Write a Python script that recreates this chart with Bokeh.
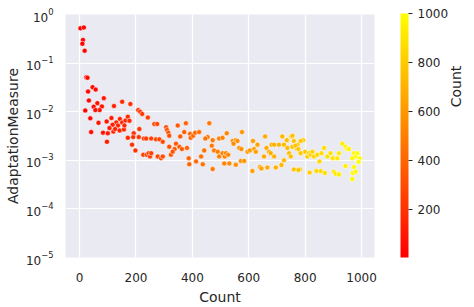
import math
from bokeh.plotting import figure
from bokeh.layouts import row
from bokeh.models import (ColumnDataSource, LinearColorMapper, ColorBar, FixedTicker,
                          LogTickFormatter, Label, Range1d)
from bokeh.embed import file_html
from bokeh.resources import INLINE

count = [3, 15, 12, 10, 18, 24, 28, 46, 57, 30, 86, 33, 63, 50, 79, 71, 56, 20, 122, 151,
         180, 38, 67, 96, 113, 130, 143, 151, 163, 171, 177, 136, 117, 106, 120, 126, 142, 157, 159, 83,
         41, 100, 97, 192, 190, 171, 212, 208, 215, 222, 242, 186, 198, 210, 228, 236, 226, 238, 245, 250,
         265, 275, 307, 310, 315, 318, 348, 377, 371, 357, 392, 394, 403, 410, 424, 254, 271, 283, 295, 318,
         342, 354, 363, 381, 337, 324, 330, 254, 277, 289, 295, 387, 389, 460, 454, 446, 472, 495, 507, 442,
         469, 477, 490, 431, 495, 507, 413, 515, 522, 543, 554, 560, 546, 576, 566, 574, 596, 604, 519, 527,
         531, 513, 554, 572, 584, 615, 631, 619, 625, 658, 663, 672, 681, 690, 678, 654, 640, 645, 613, 666,
         696, 690, 707, 719, 725, 735, 751, 760, 737, 755, 743, 725, 749, 760, 781, 773, 771, 716, 766, 776,
         793, 784, 800, 808, 814, 820, 826, 831, 843, 851, 858, 867, 879, 890, 898, 920, 914, 932, 943, 949,
         955, 973, 979, 985, 993, 967, 776, 816, 840, 855, 870, 902, 908, 920, 943, 973, 969, 967, 990, 755,
         784, 920, 979, 472, 437]
measure = [0.52, 0.54, 0.30, 0.25, 0.18, 0.051, 0.050, 0.032, 0.0285, 0.026, 0.019, 0.017, 0.015, 0.0126, 0.0128, 0.0108, 0.0108, 0.0106, 0.0131, 0.016,
           0.0144, 0.0073, 0.0059, 0.0063, 0.0074, 0.0060, 0.0071, 0.0060, 0.0066, 0.0079, 0.0065, 0.0052, 0.0054, 0.0046, 0.0039, 0.0044, 0.0041, 0.0043, 0.0052, 0.0037,
           0.0038, 0.0036, 0.0024, 0.0036, 0.0030, 0.0029, 0.0044, 0.0108, 0.0100, 0.0090, 0.0076, 0.0021, 0.0016, 0.0030, 0.0028, 0.0028, 0.0013, 0.0013, 0.0014, 0.0012,
           0.0056, 0.0056, 0.0048, 0.0042, 0.0037, 0.0032, 0.0052, 0.0058, 0.0038, 0.0031, 0.0035, 0.0029, 0.0032, 0.0037, 0.0038, 0.0028, 0.0027, 0.0027, 0.0024, 0.0019,
           0.0022, 0.0019, 0.0017, 0.0018, 0.0017, 0.0013, 0.0015, 0.0014, 0.0012, 0.0011, 0.0012, 0.0011, 0.00083, 0.0058, 0.0030, 0.0028, 0.0026, 0.0028, 0.0029, 0.0016,
           0.0020, 0.0016, 0.0015, 0.0012, 0.0012, 0.0014, 0.00095, 0.0012, 0.0036, 0.0025, 0.0026, 0.0025, 0.0022, 0.0038, 0.0018, 0.0017, 0.0015, 0.0016, 0.0014, 0.0013,
           0.00086, 0.00086, 0.00081, 0.00097, 0.00097, 0.0025, 0.0021, 0.0017, 0.0015, 0.0031, 0.0018, 0.0015, 0.0021, 0.0021, 0.0014, 0.0012, 0.00073, 0.00068, 0.00060, 0.00071,
           0.00071, 0.0012, 0.0021, 0.0031, 0.0021, 0.0026, 0.0031, 0.0025, 0.0018, 0.0019, 0.0014, 0.0010, 0.0012, 0.00065, 0.00065, 0.0021, 0.0017, 0.0008, 0.0020, 0.0017,
           0.0026, 0.0014, 0.0015, 0.0012, 0.0014, 0.0013, 0.0015, 0.0012, 0.0013, 0.00095, 0.0014, 0.0018, 0.0012, 0.0014, 0.0011, 0.0014, 0.0011, 0.0022, 0.0019, 0.0017,
           0.0017, 0.0014, 0.0012, 0.0014, 0.0011, 0.0011, 0.00063, 0.00056, 0.00060, 0.00060, 0.00055, 0.00058, 0.00053, 0.00053, 0.00076, 0.00073, 0.00055, 0.00041, 0.00093, 0.0032,
           0.0025, 0.00051, 0.00058, 0.00066, 0.00083]

x_ticks = [0, 200, 400, 600, 800, 1000]
y_ticks = [1e-5, 1e-4, 1e-3, 1e-2, 1e-1, 1]
cbar_ticks = [200, 400, 600, 800, 1000]

FONT = "DejaVu Sans"
TXT = "#262626"

autumn = ["#ff%02x00" % i for i in range(256)]
mapper = LinearColorMapper(palette=autumn, low=min(count), high=max(cbar_ticks))

src = ColumnDataSource(dict(count=count, measure=measure))

p = figure(width=457, height=307, y_axis_type="log", x_range=(-50, 1046), y_range=(1e-5, 1),
           output_backend="svg", toolbar_location=None, title=None,
           min_border_left=65, min_border_top=14, min_border_bottom=49, min_border_right=83)
p.background_fill_color = "#EAEAF2"
p.border_fill_color = "white"
p.outline_line_color = None
p.grid.grid_line_color = "white"
p.grid.grid_line_width = 1.2

p.xaxis.ticker = FixedTicker(ticks=x_ticks)
p.yaxis.ticker = FixedTicker(ticks=y_ticks)
p.yaxis.formatter = LogTickFormatter()
for ax in (p.xaxis[0], p.yaxis[0]):
    ax.axis_line_color = None
    ax.major_tick_line_color = None
    ax.minor_tick_line_color = None
    ax.major_label_text_font = FONT
    ax.major_label_text_font_size = "12px"
    ax.major_label_text_color = TXT
    ax.axis_label_text_font = FONT
    ax.axis_label_text_font_size = "14px"
    ax.axis_label_text_font_style = "normal"
    ax.axis_label_text_color = TXT
p.xaxis.axis_label = "Count"
p.yaxis.axis_label = "AdaptationMeasure"
p.xaxis.major_label_standoff = 9
p.yaxis.major_label_standoff = 6
p.xaxis.axis_label_standoff = 4
p.yaxis.axis_label_standoff = 2

p.scatter(x="count", y="measure", source=src, size=5,
          fill_color={"field": "count", "transform": mapper},
          line_color="white", line_width=0.5)

cb = ColorBar(color_mapper=mapper, ticker=FixedTicker(ticks=cbar_ticks), width=8, height=244,
              padding=0, margin=0, location=(26, 0), bar_line_color=None,
              major_tick_in=0, major_tick_out=4, major_tick_line_color=TXT,
              minor_tick_line_color=None, label_standoff=5,
              major_label_text_font=FONT, major_label_text_font_size="12px",
              major_label_text_color=TXT, background_fill_color=None)
p.add_layout(cb, "right")

# narrow transparent companion canvas that carries the colour-bar label
p2 = figure(width=27, height=307, output_backend="svg", toolbar_location=None, title=None,
            x_axis_type=None, y_axis_type=None, x_range=Range1d(0, 1), y_range=Range1d(0, 1),
            min_border_left=0, min_border_right=0, min_border_top=0, min_border_bottom=0,
            margin=(0, 0, 0, -10))
p2.outline_line_color = None
p2.grid.visible = False
p2.background_fill_color = None
p2.border_fill_color = None
p2.add_layout(Label(x=8, y=171, x_units="screen", y_units="screen", text="Count",
                    angle=math.pi / 2, text_align="center", text_baseline="middle",
                    text_font=FONT, text_font_size="14px", text_color=TXT))

layout = row(p, p2, spacing=0)
open("out.html", "w").write(file_html(layout, INLINE))
